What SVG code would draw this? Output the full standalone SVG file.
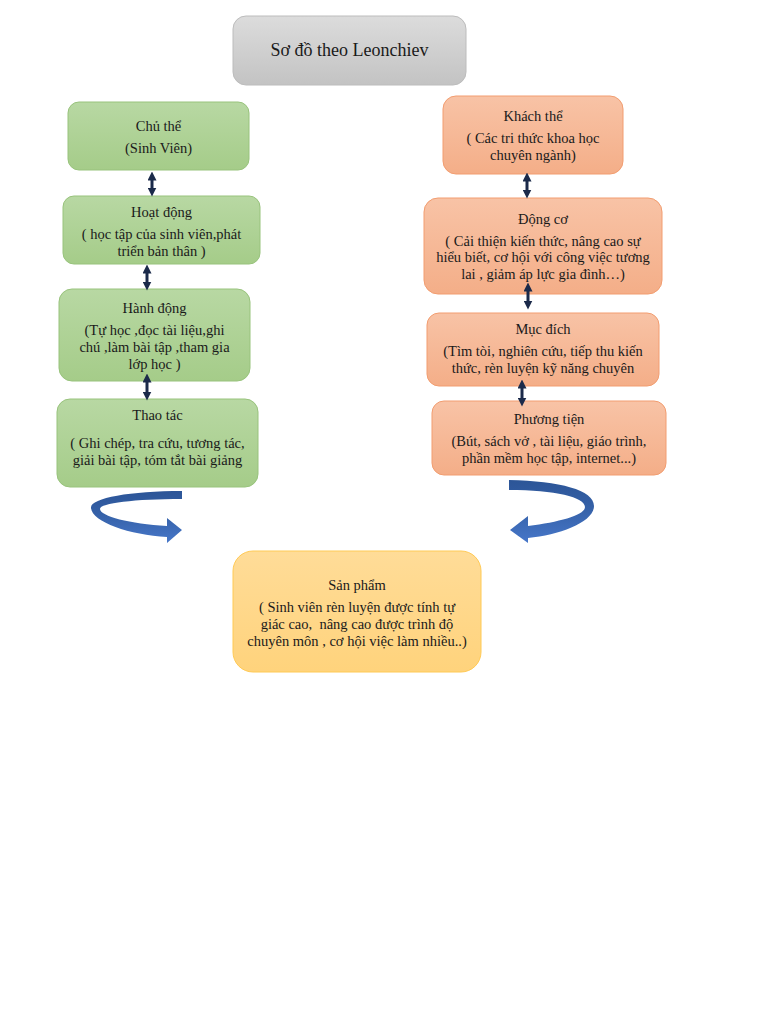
<svg xmlns="http://www.w3.org/2000/svg" width="768" height="1024" viewBox="0 0 768 1024">
<defs>
<linearGradient id="gGray" x1="0" y1="0" x2="0" y2="1"><stop offset="0" stop-color="#dcdcdc"/><stop offset="1" stop-color="#c3c3c3"/></linearGradient>
<linearGradient id="gGreen" x1="0" y1="0" x2="0" y2="1"><stop offset="0" stop-color="#b8d8a3"/><stop offset="1" stop-color="#a5cc89"/></linearGradient>
<linearGradient id="gOrange" x1="0" y1="0" x2="0" y2="1"><stop offset="0" stop-color="#f8c3a6"/><stop offset="1" stop-color="#f4ae88"/></linearGradient>
<linearGradient id="gYellow" x1="0" y1="0" x2="0" y2="1"><stop offset="0" stop-color="#ffdc98"/><stop offset="1" stop-color="#ffd37c"/></linearGradient>
<linearGradient id="gBlueL" x1="0" y1="0" x2="0" y2="1"><stop offset="0" stop-color="#2c5597"/><stop offset="0.45" stop-color="#3561a8"/><stop offset="1" stop-color="#4777c9"/></linearGradient>
<marker id="dh" viewBox="0 0 10 10" refX="5" refY="5" markerWidth="3" markerHeight="3" orient="auto-start-reverse" markerUnits="strokeWidth">
<path d="M0,0 L10,5 L0,10 Z" fill="#1b2a4a"/>
</marker>
<style>
text{font-family:"Liberation Serif","Times New Roman",serif;font-size:14.5px;fill:#1a1a1a;text-anchor:middle}
.title{font-size:18px}
.pre{white-space:pre}
.green{fill:url(#gGreen);stroke:#98c37c;stroke-width:1}
.orange{fill:url(#gOrange);stroke:#f29d70;stroke-width:1}
.yellow{fill:url(#gYellow);stroke:#ffca55;stroke-width:1}
.gray{fill:url(#gGray);stroke:#bcbcbc;stroke-width:1}
.dbl{stroke:#1b2a4a;stroke-width:3;fill:none;marker-start:url(#dh);marker-end:url(#dh)}
.curve{fill:url(#gBlueL)}
</style>
</defs>
<rect width="768" height="1024" fill="#ffffff"/>

<g id="title">
<rect class="gray" x="233" y="16" width="233" height="69" rx="13"/>
<text class="title" x="349.5" y="56">Sơ đồ theo Leonchiev</text>
</g>

<g id="chu-the">
<rect class="green" x="68" y="102" width="181" height="68" rx="11"/>
<text x="158.5" y="131">Chủ thể</text>
<text x="158.5" y="153">(Sinh Viên)</text>
</g>

<g id="hoat-dong">
<rect class="green" x="63" y="196" width="197" height="68" rx="11"/>
<text x="161.5" y="217">Hoạt động</text>
<text x="161.5" y="239">( học tập của sinh viên,phát</text>
<text x="161.5" y="256">triển bản thân )</text>
</g>

<g id="hanh-dong">
<rect class="green" x="59" y="289" width="191" height="92" rx="13"/>
<text x="154.5" y="313">Hành động</text>
<text x="154.5" y="335">(Tự học ,đọc tài liệu,ghi</text>
<text x="154.5" y="352">chú ,làm bài tập ,tham gia</text>
<text x="154.5" y="369">lớp học )</text>
</g>

<g id="thao-tac">
<rect class="green" x="57" y="399" width="201" height="88" rx="13"/>
<text x="157.5" y="420">Thao tác</text>
<text x="157.5" y="448">( Ghi chép, tra cứu, tương tác,</text>
<text x="157.5" y="465">giải bài tập, tóm tắt bài giảng</text>
</g>

<g id="khach-the">
<rect class="orange" x="443" y="96" width="180" height="78" rx="13"/>
<text x="533" y="121">Khách thể</text>
<text x="533" y="143">( Các tri thức khoa học</text>
<text x="533" y="160">chuyên ngành)</text>
</g>

<g id="dong-co">
<rect class="orange" x="424" y="198" width="238" height="96" rx="14"/>
<text x="543" y="224">Động cơ</text>
<text x="543" y="246">( Cải thiện kiến thức, nâng cao sự</text>
<text x="543" y="262">hiểu biết, cơ hội với công việc tương</text>
<text x="543" y="279">lai , giảm áp lực gia đình…)</text>
</g>

<g id="muc-dich">
<rect class="orange" x="427" y="313" width="232" height="73" rx="12"/>
<text x="543" y="334">Mục đích</text>
<text x="543" y="356">(Tìm tòi, nghiên cứu, tiếp thu kiến</text>
<text x="543" y="373">thức, rèn luyện kỹ năng chuyên</text>
</g>

<g id="phuong-tien">
<rect class="orange" x="432" y="401" width="234" height="74" rx="12"/>
<text x="549" y="424">Phương tiện</text>
<text x="549" y="446">(Bút, sách vở , tài liệu, giáo trình,</text>
<text x="549" y="463">phần mềm học tập, internet...)</text>
</g>

<g id="san-pham">
<rect class="yellow" x="233" y="551" width="248" height="121" rx="20"/>
<text x="357" y="590">Sản phẩm</text>
<text x="357" y="612">( Sinh viên rèn luyện được tính tự</text>
<text class="pre" x="357" y="629">giác cao,  nâng cao được trình độ</text>
<text x="357" y="646">chuyên môn , cơ hội việc làm nhiều..)</text>
</g>

<g id="connectors">
<line class="dbl" x1="152" y1="176" x2="152" y2="192"/>
<line class="dbl" x1="147" y1="269" x2="147" y2="286"/>
<line class="dbl" x1="147" y1="378" x2="147" y2="396"/>
<line class="dbl" x1="527" y1="177" x2="527" y2="194"/>
<line class="dbl" x1="528" y1="287" x2="528" y2="305"/>
<line class="dbl" x1="522" y1="384" x2="522" y2="402"/>
<path class="curve" d="M182,491 C130,491 90,498 91,508 C92,522 130,535 167,537 L167,543 L182,530 L167,518 L167,526 C130,524 100,516 100,509 C100,503 135,499 182,499 Z"/>
<path class="curve" d="M509,480 C560,481 594,490 594,506 C594,522 560,535 528,538 L528,543 L510,530 L528,516 L528,526 C560,522 585,515 585,507 C585,497 555,490 509,490 Z"/>
</g>
</svg>
